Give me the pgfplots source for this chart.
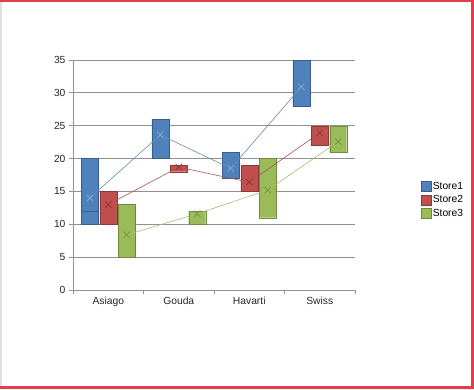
\documentclass[border=0pt]{standalone}
\usepackage{pgfplots}
\pgfplotsset{compat=1.18}
\usepackage{fontspec}
\setmainfont{Liberation Sans}
\definecolor{sA}{RGB}{79,129,189}
\definecolor{sAd}{RGB}{56,93,138}
\definecolor{sAl}{RGB}{105,138,182}
\definecolor{sAm}{RGB}{140,170,210}
\definecolor{sB}{RGB}{192,80,77}
\definecolor{sBd}{RGB}{140,56,54}
\definecolor{sBl}{RGB}{172,82,82}
\definecolor{sBm}{RGB}{145,52,52}
\definecolor{sC}{RGB}{155,187,89}
\definecolor{sCd}{RGB}{113,137,63}
\definecolor{sCl}{RGB}{168,188,118}
\definecolor{sCm}{RGB}{118,145,62}
\definecolor{gridc}{RGB}{145,145,145}
\definecolor{frame}{RGB}{230,60,70}
\pgfplotsset{
  base/.style={at={(73pt,99pt)}, anchor=south west,
  scale only axis, width=282pt, height=230pt,
  xmin=-0.5, xmax=3.5, ymin=0, ymax=35},
  fbar/.style={ybar stacked, bar width=17pt},
}
\begin{document}
\begin{tikzpicture}[x=1pt,y=1pt]
\path[use as bounding box] (0,0) rectangle (474,389);
\fill[white] (0,0) rectangle (474,389);
\fill[frame] (0,387) rectangle (474,389);
\fill[frame] (0,0) rectangle (474,3);
\fill[frame] (471,0) rectangle (474,389);
\fill[black!12] (0,3) rectangle (1.5,387);
% Store1 (with grid, axes, legend)
\begin{axis}[
  base, fbar,
  ytick={0,5,...,35},
  xtick={0,1,2,3}, xticklabels={Asiago,Gouda,Havarti,Swiss},
  minor xtick={-0.5,0.5,1.5,2.5,3.5},
  major tick length=4pt, minor tick length=4pt,
  major x tick style={draw=none},
  tick align=outside,
  axis x line*=bottom, axis y line*=left,
  axis line style={gridc, line width=0.8pt, -},
  tick style={gridc, line width=0.8pt},
  ymajorgrids, grid style={gridc, line width=0.8pt},
  ticklabel style={font=\fontsize{10.3}{12}\selectfont, text=black!85},
  /pgf/number format/assume math mode=true,
  legend style={at={(1.235,0.475)}, anchor=north west, draw=none, fill=none,
    font=\fontsize{10.3}{12}\selectfont, inner sep=0pt, row sep=3.2pt,
    nodes={inner sep=0.8pt}},
  legend cell align=left,
  legend image code/.code={\draw[#1, line width=0.5pt] (0pt,-5pt) rectangle (10pt,5pt);},
]
% base (low), low-to-median, median-to-high
\addplot[forget plot, draw=none, fill=none] coordinates {(-0.262,10) (0.738,20) (1.738,17) (2.738,28)};
\addplot[forget plot, fill=sA, draw=sAd] coordinates {(-0.262,2) (0.738,0) (1.738,0) (2.738,0)};
\addplot[forget plot, fill=sA, draw=sAd] coordinates {(-0.262,8) (0.738,6) (1.738,4) (2.738,7)};
\addlegendimage{fill=sA, draw=sAd}
\addlegendentry{Store1}
\addlegendimage{fill=sB, draw=sBd}
\addlegendentry{Store2}
\addlegendimage{fill=sC, draw=sCd}
\addlegendentry{Store3}
\end{axis}
% Store2
\begin{axis}[base, fbar, hide axis]
\addplot[draw=none, fill=none] coordinates {(0,10) (1,18) (2,15) (3,22)};
\addplot[fill=sB, draw=sBd] coordinates {(0,5) (1,1) (2,4) (3,3)};
\end{axis}
% Store3
\begin{axis}[base, fbar, hide axis]
\addplot[draw=none, fill=none] coordinates {(0.262,5) (1.262,10) (2.262,11) (3.262,21)};
\addplot[fill=sC, draw=sCd] coordinates {(0.262,8) (1.262,2) (2.262,9) (3.262,4)};
\end{axis}
% mean lines
\begin{axis}[base, hide axis, clip=false]
\addplot[sAl, line width=0.6pt, mark=x, mark size=4.5pt, mark options={sAm, line width=0.7pt}] coordinates {(-0.262,14) (0.738,23.6) (1.738,18.5) (2.738,30.9)};
\addplot[sBl, line width=0.6pt, mark=x, mark size=4.5pt, mark options={sBm, line width=0.7pt}] coordinates {(0,13) (1,18.7) (2,16.4) (3,23.9)};
\addplot[sCl, line width=0.6pt, mark=x, mark size=4.5pt, mark options={sCm, line width=0.7pt}] coordinates {(0.262,8.4) (1.262,11.6) (2.262,15.2) (3.262,22.6)};
\end{axis}
\end{tikzpicture}
\end{document}
